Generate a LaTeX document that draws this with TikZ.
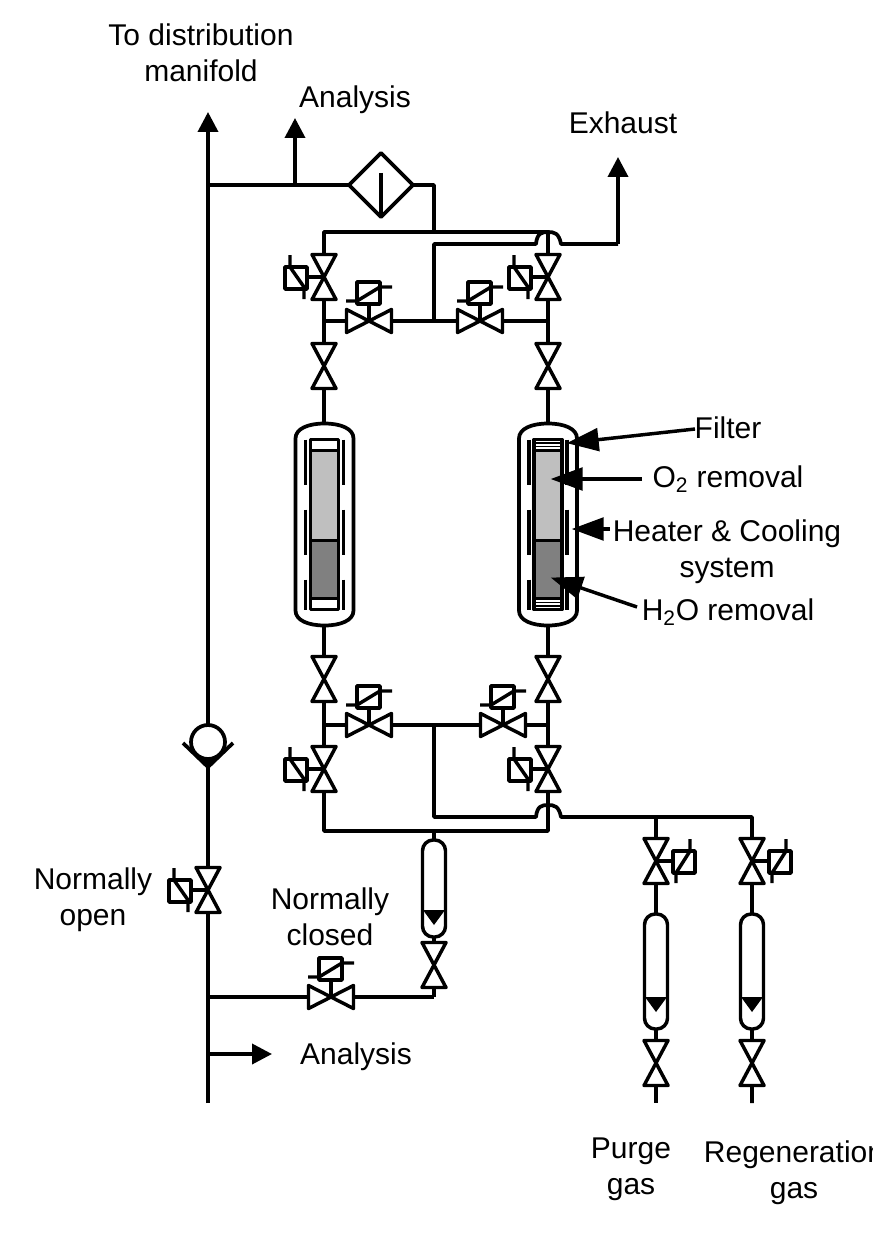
\documentclass[tikz,border=0pt]{standalone}
\usepackage{fontspec}
\setmainfont{Liberation Sans}
\usetikzlibrary{arrows.meta}

\tikzset{
    pipe/.style={line width=2.8pt, line join=round},
    thinpipe/.style={line width=2.6pt, line join=round},
    flow/.style={pipe, -{Triangle[length=15pt, width=15pt]}},
    callout/.style={line width=2.6pt, -{Triangle[length=24pt, width=17pt]}, shorten >=-1pt},
    label/.style={font=\fontsize{22.5}{27}\selectfont, align=center, inner sep=0pt},
    % --- Plain valves, drawn about their centre ---
    pics/vvalve/.style={code={
        \draw[thinpipe, fill=white] (-12,-22.5) -- (12,-22.5) -- (-12,22.5) -- (12,22.5) -- cycle;
    }},
    pics/hvalve/.style={code={
        \draw[thinpipe, fill=white] (-22.5,-11.5) -- (-22.5,11.5) -- (22.5,-11.5) -- (22.5,11.5) -- cycle;
    }},
    % --- Solenoids: beside a vertical valve or above a horizontal one ---
    pics/solleft/.style={code={
        \draw[thinpipe] (-39,-10) rectangle (-17,12);
        \draw[thinpipe] (-17,0) -- (0,0);
        \draw[thinpipe] (-34,-22) -- (-34,-10) -- (-20,10) -- (-20,22);
    }},
    pics/solright/.style={code={
        \draw[thinpipe] (17,-10) rectangle (39,12);
        \draw[thinpipe] (0,0) -- (17,0);
        \draw[thinpipe] (34,-22) -- (34,-10) -- (20,12) -- (20,22);
    }},
    pics/soltop/.style={code={
        \draw[thinpipe] (-12,-39) rectangle (11,-17);
        \draw[thinpipe] (0,-17) -- (0,0);
        \draw[thinpipe] (-23,-20) -- (-12,-20) -- (11,-34) -- (23,-34);
    }},
    % --- Rotameter: origin on top of the float ---
    pics/gauge/.style 2 args={code={
        \draw[thinpipe, fill=white, rounded corners=8pt] (-11.5,-#1) rectangle (11.5,#2);
        \fill (-11,0) -- (11,0) -- (0,15) -- cycle;
    }},
    % --- Adsorber column, origin at its centre ---
    pics/column/.style={code={
        \draw[pipe, fill=white] (-29,-86) .. controls (-29,-96) and (-16,-101) .. (0,-101)
            .. controls (16,-101) and (29,-96) .. (29,-86) -- (29,86)
            .. controls (29,96) and (16,101) .. (0,101)
            .. controls (-16,101) and (-29,96) .. (-29,86) -- cycle;
        \fill[black!25] (-13,-74) rectangle (13,15);
        \fill[black!50] (-13,17) rectangle (13,73);
        \draw[thinpipe] (-14.2,-85) rectangle (14.2,85);
        \draw[thinpipe] (-14.2,-74) -- (14.2,-74);
        \draw[thinpipe] (-14.2,16) -- (14.2,16);
        \draw[thinpipe] (-14.2,74) -- (14.2,74);
        \foreach \xbar in {-19,19} {
            \draw[thinpipe] (\xbar,-85) -- (\xbar,-40);
            \draw[thinpipe] (\xbar,-15) -- (\xbar,30);
            \draw[thinpipe] (\xbar,55) -- (\xbar,85);
        }
    }},
    pics/filtermesh/.style={code={
        \foreach \ybar in {-81.5,-78,78,81.5} {
            \draw[line width=1.3pt] (-13,\ybar) -- (13,\ybar);
        }
    }}
}

\begin{document}
\begin{tikzpicture}[x=0.75pt, y=-0.75pt]
    \useasboundingbox (0,0) rectangle (872,1248);
    \clip (0,0) rectangle (872,1248);

    % --- Coordinates of the main pipe ---
    \coordinate (mainEnd) at (208,1103);
    \coordinate (mainTop) at (208,112);
    \coordinate (teeProduct) at (208,185);
    \coordinate (teeUp) at (295,185);
    \coordinate (analysisTop) at (295,118);
    \coordinate (teeSample) at (208,997);
    \coordinate (teeLow) at (208,1054);
    \coordinate (analysisLow) at (272,1054);

    % --- Coordinates of the two columns ---
    \coordinate (colL) at (324.5,524.5);
    \coordinate (colR) at (548,524.5);
    \coordinate (topL) at (324,232);
    \coordinate (topR) at (548,232);
    \coordinate (midTopL) at (324,321);
    \coordinate (midTopR) at (548,321);
    \coordinate (midLowL) at (324,725);
    \coordinate (midLowR) at (548,725);
    \coordinate (lowL) at (324,831);
    \coordinate (lowR) at (548,831);

    % --- Coordinates of the cross lines ---
    \coordinate (filterL) at (349,185);
    \coordinate (filterR) at (413,185);
    \coordinate (filterT) at (381,153);
    \coordinate (filterB) at (381,217);
    \coordinate (filterC) at (381,173);
    \coordinate (feedCorner) at (434,185);
    \coordinate (feedTop) at (434,232);
    \coordinate (exhaustTee) at (434,321);
    \coordinate (exhaustStart) at (434,244);
    \coordinate (hopTopA) at (536,244);
    \coordinate (hopTopB) at (561,244);
    \coordinate (exhaustCorner) at (618,244);
    \coordinate (exhaustTop) at (618,157);
    \coordinate (feedLow) at (434,725);
    \coordinate (feedLowCorner) at (434,817);
    \coordinate (hopLowA) at (536,817);
    \coordinate (hopLowB) at (561,817);
    \coordinate (regenTee) at (752,817);
    \coordinate (regenEnd) at (752,1103);
    \coordinate (purgeTee) at (656,817);
    \coordinate (purgeEnd) at (656,1103);

    % --- Coordinates of the sample branch ---
    \coordinate (sampleTop) at (434,831);
    \coordinate (sampleCorner) at (434,997);

    % --- Pipes ---
    \draw[flow] (mainEnd) -- (mainTop);
    \draw[pipe] (teeProduct) -- (filterL);
    \draw[flow] (teeUp) -- (analysisTop);
    \draw[flow] (teeLow) -- (analysisLow);
    \draw[pipe] (teeSample) -- (sampleCorner);
    \draw[thinpipe] (sampleCorner) -- (sampleTop);

    \draw[thinpipe] (filterR) -- (feedCorner) -- (feedTop);
    \draw[pipe] (topL) -- (topR) -- (lowR) -- (lowL) -- cycle;
    \draw[pipe] (midTopL) -- (midTopR);
    \draw[pipe] (midLowL) -- (midLowR);
    \draw[pipe] (exhaustTee) -- (exhaustStart) -- (hopTopA)
        .. controls (537,233) and (542,232) .. (topR)
        .. controls (554,232) and (559,233) .. (hopTopB)
        -- (exhaustCorner);
    \draw[flow] (exhaustCorner) -- (exhaustTop);
    \draw[pipe] (feedLow) -- (feedLowCorner) -- (hopLowA)
        .. controls (537,806) and (542,805) .. (548,805)
        .. controls (554,805) and (559,806) .. (hopLowB)
        -- (regenTee) -- (regenEnd);
    \draw[pipe] (purgeTee) -- (purgeEnd);

    % --- Filter ---
    \draw[pipe, fill=white] (filterL) -- (filterT) -- (filterR) -- (filterB) -- cycle;
    \draw[pipe] (filterC) -- (filterB);

    % --- Columns ---
    \pic at (colL) {column};
    \pic at (colR) {column};
    \pic at (colR) {filtermesh};

    % --- Valves around the columns ---
    \foreach \xcol in {324,548} {
        \pic at (\xcol,277) {solleft};
        \pic at (\xcol,277) {vvalve};
        \pic at (\xcol,366) {vvalve};
        \pic at (\xcol,679) {vvalve};
        \pic at (\xcol,769) {solleft};
        \pic at (\xcol,769) {vvalve};
    }
    \foreach \xval/\yval in {369/321,480/321,369/725,503/725,331/997} {
        \pic at (\xval,\yval) {soltop};
        \pic at (\xval,\yval) {hvalve};
    }

    % --- Main line check valve and valve ---
    \draw[pipe, fill=white] (208,742) circle[radius=17];
    \fill (200,758) -- (216,758) -- (208,767) -- cycle;
    \draw[pipe] (183,743) -- (208,767) -- (233,743);
    \pic at (208,890) {solleft};
    \pic at (208,890) {vvalve};

    % --- Sample branch and gas inlets ---
    \pic at (434,910) {gauge={70}{27}};
    \pic at (434,965) {vvalve};
    \foreach \xgas in {656,752} {
        \pic at (\xgas,861) {solright};
        \pic at (\xgas,861) {vvalve};
        \pic at (\xgas,997) {gauge={83}{32}};
        \pic at (\xgas,1063) {vvalve};
    }

    % --- Labels ---
    \node[label] (manifoldLabel) at (201,53) {To distribution\\manifold};
    \node[label] (analysisTopLabel) at (355,100) {Analysis};
    \node[label] (exhaustLabel) at (623,123) {Exhaust};
    \node[label] (filterLabel) at (728,428) {Filter};
    \node[label] (oxygenLabel) at (728,479) {O\textsubscript{2} removal};
    \node[label] (heaterLabel) at (727,552) {Heater \& Cooling\\system};
    \node[label] (waterLabel) at (728,612) {H\textsubscript{2}O removal};
    \node[label] (analysisLowLabel) at (356,1057) {Analysis};
    \node[label] (openLabel) at (93,900) {Normally\\open};
    \node[label] (closedLabel) at (330,917) {Normally\\closed};
    \node[label] (purgeLabel) at (631,1169) {Purge\\gas};
    \node[label] (regenLabel) at (794,1172.5) {Regeneration\\gas};

    % --- Callouts ---
    \coordinate (tipFilter) at (568,443);
    \coordinate (tipOxygen) at (552,479);
    \coordinate (tipHeater) at (573,529);
    \coordinate (tipWater) at (552,578);
    \coordinate (tailFilter) at (695,429);
    \coordinate (tailOxygen) at (642,479);
    \coordinate (tailHeater) at (610,529);
    \coordinate (tailWater) at (637,607);

    \draw[callout] (tailFilter) -- (tipFilter);
    \draw[callout] (tailOxygen) -- (tipOxygen);
    \draw[callout] (tailHeater) -- (tipHeater);
    \draw[callout] (tailWater) -- (tipWater);
\end{tikzpicture}
\end{document}
